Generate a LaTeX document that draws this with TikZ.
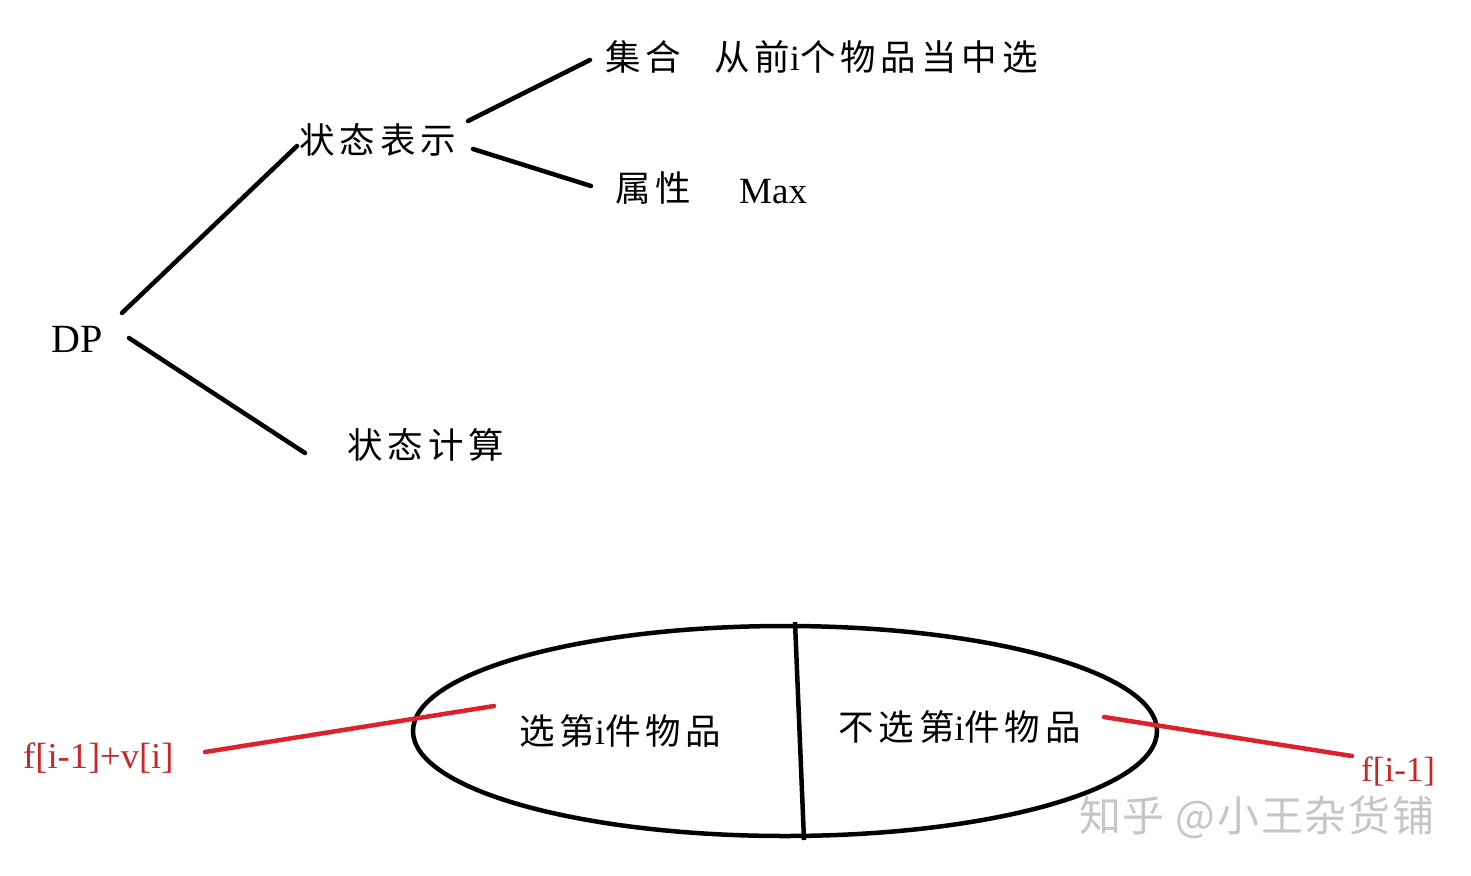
\documentclass[tikz,border=0pt]{standalone}
\usepackage{fontspec}
\setmainfont{Liberation Serif}
\newfontfamily\cjk{Noto Sans CJK SC}[LetterSpace=14]
\newfontfamily\wmfont{Noto Sans CJK SC}[LetterSpace=4]
\usetikzlibrary{shapes.geometric}
\definecolor{redline}{RGB}{222,34,44}
\definecolor{redtext}{RGB}{200,40,40}
\definecolor{wmgray}{RGB}{198,198,198}
\tikzset{
  txt/.style={inner sep=0pt, anchor=west, font=\fontsize{35.5}{40}\selectfont},
  lat/.style={inner sep=0pt, anchor=west, font=\fontsize{40}{46}\selectfont},
  redlbl/.style={inner sep=0pt, anchor=west, text=redtext, font=\fontsize{36.5}{42}\selectfont},
  blk/.style={line width=4.5pt, line cap=round, black},
  redl/.style={line width=4.5pt, line cap=round, redline},
}
\begin{document}
\begin{tikzpicture}[x=1pt,y=-1pt]
\useasboundingbox[fill=white] (0,0) rectangle (1471,875);
% texts
\node[txt] (jihe) at (605,57) {\cjk 集合};
\node[txt] (cong) at (714,57) {{\cjk 从前}i{\cjk 个物品当中选}};
\node[txt] (zt) at (299,140) {\cjk 状态表示};
\node[txt] (sx) at (615,188) {\cjk 属性};
\node[lat, font=\fontsize{37}{42}\selectfont, anchor=base west] (max) at (739,203) {Max};
\node[lat, anchor=base west] (dp) at (51,352) {DP};
\node[txt] (js) at (347,445) {\cjk 状态计算};
% top lines
\coordinate (dpA) at (122,313);
\coordinate (ztA) at (297,146);
\coordinate (dpB) at (129,338);
\coordinate (jsA) at (305,453);
\coordinate (ztB) at (468,121);
\coordinate (jhA) at (590,60);
\coordinate (ztC) at (473,149);
\coordinate (sxA) at (591,186);
\draw[blk] (dpA) -- (ztA);
\draw[blk] (dpB) -- (jsA);
\draw[blk] (ztB) -- (jhA);
\draw[blk] (ztC) -- (sxA);
% ellipse
\node[ellipse, draw, line width=4.5pt, minimum width=744pt, minimum height=210pt, inner sep=0pt] (ell) at (785,731) {};
\coordinate (dvT) at (795,622);
\coordinate (dvB) at (804,840);
\draw[blk, line cap=butt] (dvT) -- (dvB);
\node[txt] (xuan) at (519,731) {{\cjk 选第}i{\cjk 件物品}};
\node[txt] (buxuan) at (838,727) {{\cjk 不选第}i{\cjk 件物品}};
% red labels
\node[redlbl, anchor=base west] (fv) at (23,768) {f[i-1]+v[i]};
\node[redlbl, font=\fontsize{35}{40}\selectfont, anchor=base west] (f1) at (1361,781) {f[i-1]};
\coordinate (rA) at (205,752);
\coordinate (rB) at (494,706);
\coordinate (rC) at (1104,717);
\coordinate (rD) at (1352,756);
\draw[redl] (rA) -- (rB);
\draw[redl] (rC) -- (rD);
% watermark
\node[inner sep=0pt, anchor=west, text=wmgray, font=\wmfont\fontsize{42}{48}\selectfont] (wm) at (1079,817) {知乎 @小王杂货铺};
\end{tikzpicture}
\end{document}
